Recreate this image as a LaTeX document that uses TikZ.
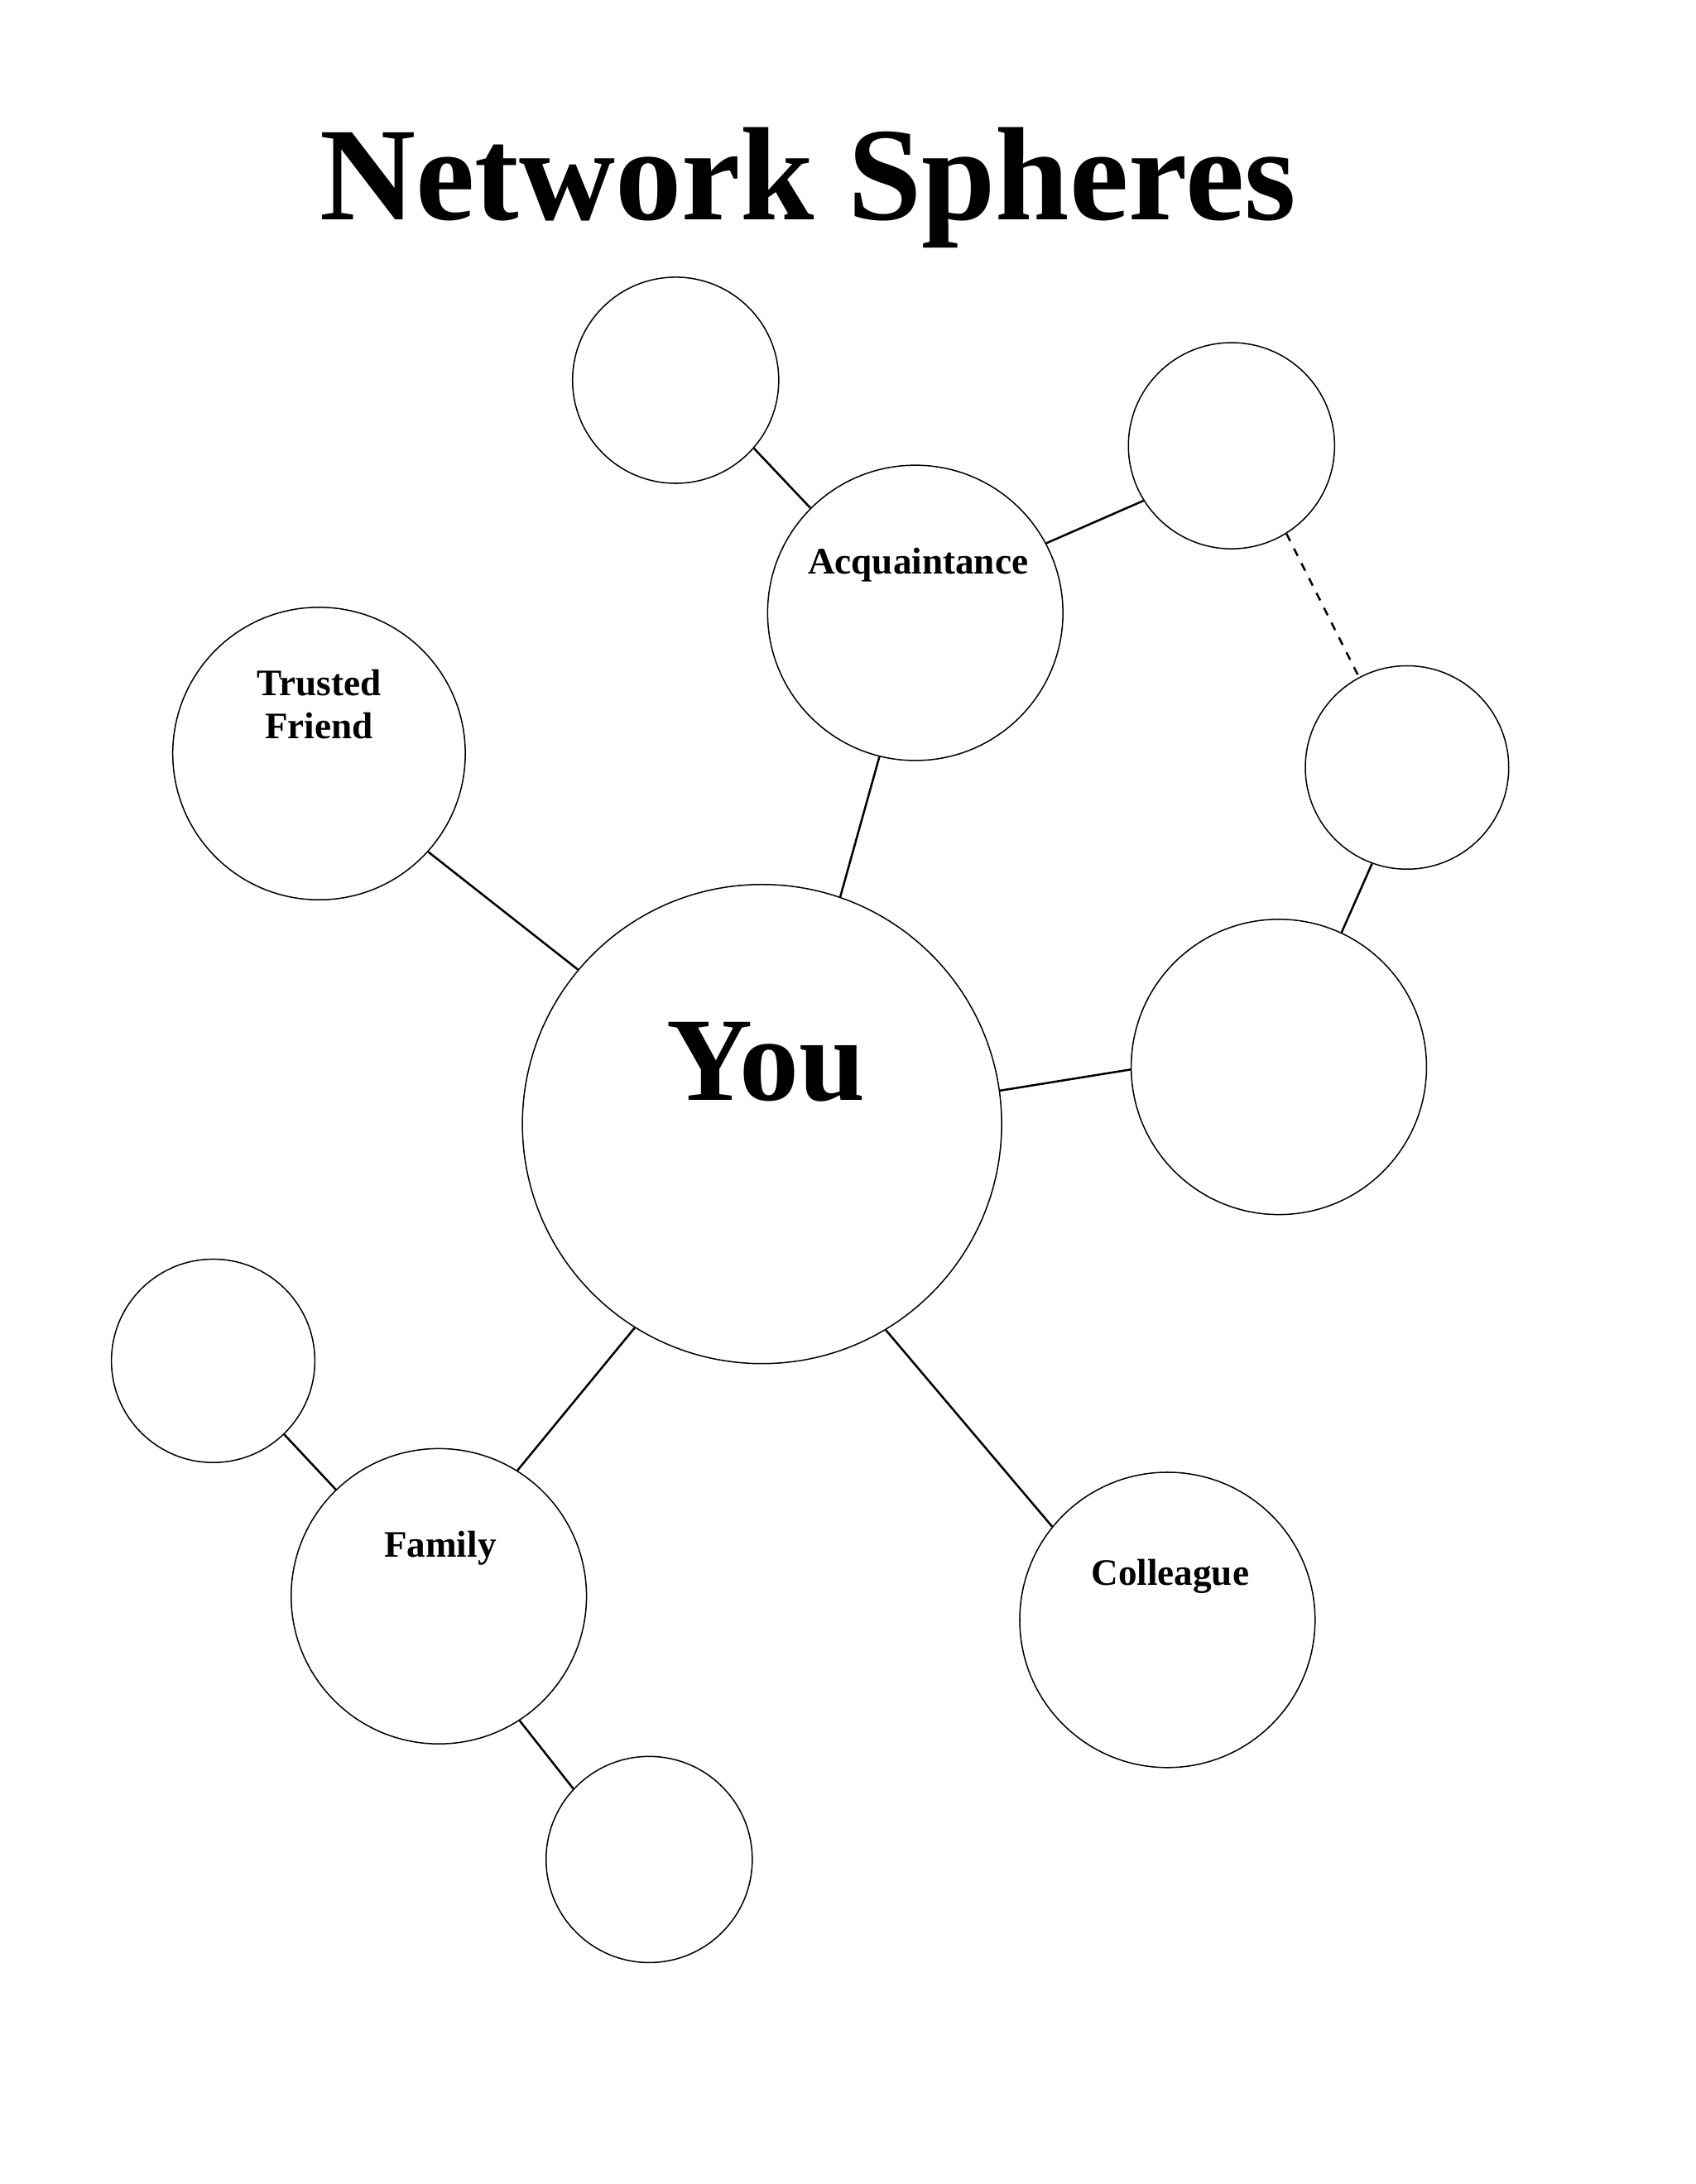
\documentclass[tikz,border=0pt]{standalone}
\usepackage{fontspec}
\setmainfont{Liberation Serif}
\usepackage{tikz}
\usetikzlibrary{positioning}

\begin{document}
\begin{tikzpicture}[x=0.5029pt, y=-0.5029pt,
		sphere/.style={draw, circle, inner sep=0pt, line width=0.45pt, minimum size=#1*1.0058pt},
		link/.style={line width=0.75pt},
		tag/.style={font=\fontsize{13.5}{15.5}\selectfont\bfseries, align=center, anchor=base}]
				\useasboundingbox[fill=white] (0,0) rectangle (1217,1568);
				\node[font=\fontsize{48}{54}\selectfont\bfseries, anchor=base] (title) at (580,158) {Network Spheres};
				
				\node[sphere=172] (you) at (547,807) {};
				\node[font=\fontsize{43}{46}\selectfont\bfseries, anchor=base] (youname) at (550,790) {You};
				
				\node[sphere=106] (acq) at (657,440) {};
				\node[tag] (acqname) at (659,412) {Acquaintance};
				\node[sphere=74] (acqtop) at (485,273) {};
				\node[sphere=74] (acqright) at (884,320) {};
				\node[sphere=73] (sideright) at (1010,551) {};
				\node[sphere=106] (bigright) at (918,766) {};
				
				\node[sphere=105] (friend) at (229,541) {};
				\node[tag] (friendname) at (229,530) {Trusted\\Friend};
				
				\node[sphere=106] (family) at (315,1146) {};
				\node[tag] (familyname) at (316,1118) {Family};
				\node[sphere=73] (famleft) at (153,977) {};
				\node[sphere=74] (fambottom) at (466,1335) {};
				
				\node[sphere=106] (coll) at (838,1163) {};
				\node[tag] (collname) at (840,1138) {Colleague};
				
				% lines leave the circles at fixed angles, not centre to centre
				\draw[link] (you.71) -- (acq.-104);
				\draw[link] (you.140.6) -- (friend.-42.7);
				\draw[link] (you.8.3) -- (bigright.181);
				\draw[link] (you.-122) -- (family.58.5);
				\draw[link] (you.-59.2) -- (coll.141.4);
				\draw[link] (acq.135.7) -- (acqtop.-41.7);
				\draw[link] (acq.28.3) -- (acqright.212);
				\draw[link, dashed] (acqright.-58.2) -- (sideright.118.7);
				\draw[link] (sideright.-110.8) -- (bigright.65.8);
				\draw[link] (family.134.6) -- (famleft.-46);
				\draw[link] (family.-57.5) -- (fambottom.137);
			\end{tikzpicture}
\end{document}
